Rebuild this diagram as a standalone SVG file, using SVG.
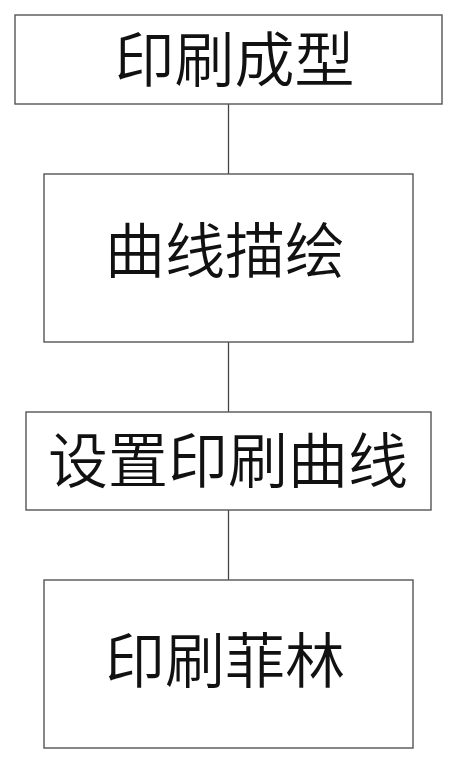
<svg xmlns="http://www.w3.org/2000/svg" width="457" height="763" viewBox="0 0 457 763">
<style>
.box{fill:#fff;stroke:#555;stroke-width:1.4}
.lbl{font-family:"Noto Sans CJK SC","Noto Sans CJK JP",sans-serif;font-size:60px;font-weight:350;fill:#111;text-anchor:middle}
.conn{stroke:#444;stroke-width:1.3;fill:none}
</style>
<rect width="457" height="763" fill="#fff"/>
<g id="connectors">
<line class="conn" x1="228.5" y1="104" x2="228.5" y2="174"/>
<line class="conn" x1="228.5" y1="342" x2="228.5" y2="412"/>
<line class="conn" x1="228.5" y1="510" x2="228.5" y2="580"/>
</g>
<g id="node1">
<rect class="box" x="15" y="15" width="427" height="89"/>
<text class="lbl" x="234.5" y="82">印刷成型</text>
</g>
<g id="node2">
<rect class="box" x="44" y="174" width="369" height="168"/>
<text class="lbl" x="225" y="273">曲线描绘</text>
</g>
<g id="node3">
<rect class="box" x="26" y="412" width="405" height="98"/>
<text class="lbl" x="228" y="483">设置印刷曲线</text>
</g>
<g id="node4">
<rect class="box" x="44" y="580" width="369" height="168"/>
<text class="lbl" x="225" y="683">印刷菲林</text>
</g>
</svg>
